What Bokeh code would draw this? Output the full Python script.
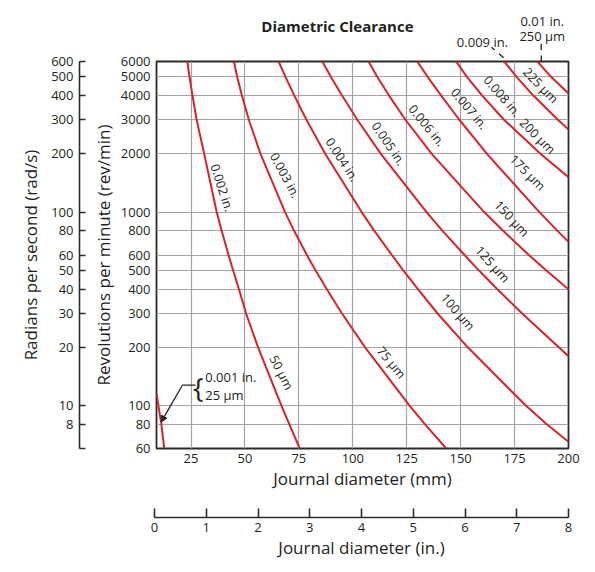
from bokeh.plotting import figure
from bokeh.models import (Range1d, FixedTicker, PrintfTickFormatter, Arrow,
                          NormalHead, ColumnDataSource)
from bokeh.layouts import row, column
from bokeh.embed import file_html
from bokeh.resources import INLINE
from bokeh.core.properties import value

# ---------------- data ----------------
rpm_ticks = [60, 80, 100, 200, 300, 400, 500, 600, 800, 1000, 2000, 3000, 4000, 5000, 6000]
rad_ticks = [6, 8, 10, 20, 30, 40, 50, 60, 80, 100, 200, 300, 400, 500, 600]
mm_ticks = [25, 50, 75, 100, 125, 150, 175, 200]
in_ticks = [0, 1, 2, 3, 4, 5, 6, 7, 8]

# journal diameter (mm) and speed (rev/min) along each diametric-clearance curve
d_001 = [9.0, 11.2, 12.6]
n_001 = [115, 81, 60]
d_002 = [23.3, 24.3, 25.7, 27.6, 31.1, 36.9, 39.2, 42.4, 44.5, 47.2, 50.5, 56.1, 66.9, 70.6, 75.4]
n_002 = [6000, 5000, 4000, 3000, 2000, 1000, 800, 600, 500, 400, 300, 200, 100, 80, 60]
d_003 = [44.9, 46.4, 48.6, 51.8, 57.2, 68.6, 72.8, 78.7, 82.7, 87.9, 94.9, 105.7, 126.3, 133.5, 143.3]
n_003 = [6000, 5000, 4000, 3000, 2000, 1000, 800, 600, 500, 400, 300, 200, 100, 80, 60]
d_004 = [65.6, 68.8, 72.9, 78.5, 87.2, 104.1, 110.0, 118.1, 123.4, 130.2, 139.2, 153.3, 180.2, 189.9, 200.0]
n_004 = [6000, 5000, 4000, 3000, 2000, 1000, 800, 600, 500, 400, 300, 200, 100, 80, 65]
d_005 = [85.9, 89.8, 95.0, 102.1, 113.0, 134.2, 141.6, 151.8, 158.4, 166.9, 178.4, 200.0]
n_005 = [6000, 5000, 4000, 3000, 2000, 1000, 800, 600, 500, 400, 300, 180]
d_006 = [107.3, 111.3, 116.8, 124.4, 136.6, 160.9, 169.7, 181.6, 189.6, 200.0]
n_006 = [6000, 5000, 4000, 3000, 2000, 1000, 800, 600, 500, 399]
d_007 = [129.9, 134.7, 141.0, 149.4, 162.2, 186.5, 194.9, 200.0]
n_007 = [6000, 5000, 4000, 3000, 2000, 1000, 800, 702]
d_008 = [147.9, 152.9, 160.0, 170.1, 187.0, 200.0]
n_008 = [6000, 5000, 4000, 3000, 2000, 1516]
d_009 = [170.2, 175.9, 183.7, 195.1, 200.0]
n_009 = [6000, 5000, 4000, 3000, 2668]
d_010 = [185.6, 191.9, 200.0]
n_010 = [6000, 5000, 4100]

clear_in = ["0.001 in.", "0.002 in.", "0.003 in.", "0.004 in.", "0.005 in.",
            "0.006 in.", "0.007 in.", "0.008 in.", "0.009 in.", "0.01 in."]
clear_um = ["25 μm", "50 μm", "75 μm", "100 μm", "125 μm",
            "150 μm", "175 μm", "200 μm", "225 μm", "250 μm"]

# ---------------- label placement (annotation positions) ----------------
in_lab_text = clear_in[1:8]
in_lab_x = [39.4, 68.6, 95.1, 116.6, 134.3, 154.0, 169.3]
in_lab_y = [1336, 1547, 1867, 2255, 2803, 3419, 3971]
in_lab_ang = [-72, -62, -57, -56, -51, -50, -49]
um_lab_text = clear_um[1:9]
um_lab_x = [66.9, 117.9, 148.7, 164.8, 173.7, 181.0, 185.6, 187.1]
um_lab_y = [148.1, 166.8, 304.5, 536.9, 924.6, 1598, 2468, 4511]
um_lab_ang = [-63, -50, -49, -48, -47, -45, -45, -46]

FONT = "Open Sans"
RED = "#d8232a"
INK = "#231f20"
GRID = "#a3a3a3"
AX = "#2b2b2b"
W = 583


def style_text_axis(ax, label):
    ax.major_label_text_font = FONT
    ax.major_label_text_font_size = "13px"
    ax.major_label_text_color = INK
    ax.axis_label = label
    ax.axis_label_text_font = FONT
    ax.axis_label_text_font_size = "17px"
    ax.axis_label_text_font_style = "normal"
    ax.axis_label_text_color = INK
    ax.minor_tick_line_color = None


# ---------------- strip above the chart: title and top callouts ----------------
x_mm = Range1d(9, 200)
pt = figure(width=W, height=50, x_range=x_mm, y_range=Range1d(50, 0), title=None,
            output_backend="svg", toolbar_location=None,
            min_border_left=154, min_border_right=W - 568, min_border_top=0, min_border_bottom=0,
            x_axis_location=None, y_axis_location=None, outline_line_color=None,
            background_fill_color="white", border_fill_color="white")
pt.grid.visible = False
pt.text(x=[93.4], y=[25], text=["Diametric Clearance"], text_font=value(FONT),
        text_font_size="15px", text_font_style="bold", text_color=INK,
        text_align="center", text_baseline="middle")
pt.text(x=[160.3, 187.9, 187.9], y=[41, 20.8, 35.8], text=[clear_in[8], clear_in[9], clear_um[9]],
        text_font=value(FONT), text_font_size="13px", text_color=INK,
        text_align="center", text_baseline="middle")
pt.segment(x0=[164.5, 187.4], y0=[46.7, 43.3], x1=[166.1, 187.4], y1=[50, 50],
           line_color=INK, line_width=1.3)

# ---------------- main chart ----------------
p = figure(width=W - 88, height=450, x_range=x_mm, y_range=Range1d(60, 6000), title=None,
           y_axis_type="log", output_backend="svg", toolbar_location=None,
           min_border_left=66, min_border_right=W - 568, min_border_top=11, min_border_bottom=52,
           background_fill_color="white", border_fill_color="white")
p.outline_line_color = AX
p.outline_line_width = 1.8

p.xaxis.ticker = FixedTicker(ticks=mm_ticks)
p.yaxis.ticker = FixedTicker(ticks=rpm_ticks, minor_ticks=[])
p.yaxis.formatter = PrintfTickFormatter(format="%d")
for ax in (p.xaxis[0], p.yaxis[0]):
    ax.axis_line_color = None
    ax.major_tick_line_color = None
    ax.major_tick_out = 0
    ax.major_tick_in = 0
style_text_axis(p.xaxis[0], "Journal diameter (mm)")
style_text_axis(p.yaxis[0], "Revolutions per minute (rev/min)")
p.xaxis.major_label_standoff = 5
p.xaxis.axis_label_standoff = 1
p.yaxis.major_label_standoff = 6
p.yaxis.axis_label_standoff = 3

p.grid.grid_line_color = GRID
p.grid.grid_line_width = 1.2
p.xgrid.ticker = FixedTicker(ticks=mm_ticks[:-1])
p.ygrid.ticker = FixedTicker(ticks=rpm_ticks)

curves = [(d_001, n_001), (d_002, n_002), (d_003, n_003), (d_004, n_004), (d_005, n_005),
          (d_006, n_006), (d_007, n_007), (d_008, n_008), (d_009, n_009), (d_010, n_010)]
for d, n in curves:
    p.line(d, n, line_color=RED, line_width=2, line_join="round")

lab_src = ColumnDataSource(dict(x=in_lab_x + um_lab_x, y=in_lab_y + um_lab_y,
                                t=in_lab_text + um_lab_text, a=in_lab_ang + um_lab_ang))
p.text(x="x", y="y", text="t", angle="a", angle_units="deg", source=lab_src,
       text_font=value(FONT), text_font_size="12.5px", text_color=INK,
       text_align="center", text_baseline="middle")

# 0.001 in. / 25 um callout
p.text(x=[31.6, 31.6], y=[140.5, 114.0], text=[clear_in[0], clear_um[0]],
       text_font=value(FONT), text_font_size="13px", text_color=INK,
       text_align="left", text_baseline="middle")
p.text(x=[28.4], y=[124.8], text=["{"], text_font=value(FONT), text_font_size="28px",
       text_color=INK, text_align="center", text_baseline="middle")
p.segment(x0=[27.1], y0=[127.4], x1=[21.0], y1=[127.4], line_color=INK, line_width=1.3)
p.add_layout(Arrow(end=NormalHead(size=6, fill_color=INK, line_color=INK),
                   x_start=21.0, y_start=127.4, x_end=11.2, y_end=82.3,
                   line_color=INK, line_width=1.3))

# lower parts of the 0.009 in. and 0.01 in. arrows (above the frame)
p.add_layout(Arrow(end=NormalHead(size=6, fill_color=INK, line_color=INK),
                   x_start=166.1, y_start=6839, x_end=169.9, y_end=6270,
                   line_color=INK, line_width=1.3))
p.add_layout(Arrow(end=NormalHead(size=6, fill_color=INK, line_color=INK),
                   x_start=187.4, y_start=6839, x_end=187.4, y_end=6000,
                   line_color=INK, line_width=1.3))

# ---------------- rad/s axis ----------------
pr = figure(width=88, height=450, x_range=Range1d(0, 1), y_range=Range1d(6, 600), title=None,
            y_axis_type="log", output_backend="svg", toolbar_location=None,
            min_border_left=79, min_border_right=0, min_border_top=11, min_border_bottom=52,
            x_axis_location=None, outline_line_color=None,
            background_fill_color="white", border_fill_color="white")
pr.grid.visible = False
ra = pr.yaxis[0]
ra.ticker = FixedTicker(ticks=rad_ticks, minor_ticks=[])
ra.formatter = PrintfTickFormatter(format="%d")
ra.major_label_overrides = {6: ""}
ra.axis_line_color = AX
ra.axis_line_width = 1.6
ra.major_tick_line_color = AX
ra.major_tick_line_width = 1.6
ra.major_tick_in = 6
ra.major_tick_out = 0
ra.major_label_standoff = 6
style_text_axis(ra, "Radians per second (rad/s)")
ra.axis_label_standoff = 6

# ---------------- inch axis ----------------
pi = figure(width=W, height=62, x_range=Range1d(0, 8), y_range=Range1d(0, 1), title=None,
            output_backend="svg", toolbar_location=None,
            min_border_left=133, min_border_right=W - 568, min_border_top=7, min_border_bottom=45,
            y_axis_location=None, outline_line_color=None,
            background_fill_color="white", border_fill_color="white")
pi.grid.visible = False
ia = pi.xaxis[0]
ia.ticker = FixedTicker(ticks=in_ticks, minor_ticks=[])
ia.axis_line_color = AX
ia.axis_line_width = 1.6
ia.major_tick_line_color = AX
ia.major_tick_line_width = 1.6
ia.major_tick_in = 9
ia.major_tick_out = 0
ia.major_label_standoff = 5
style_text_axis(ia, "Journal diameter (in.)")
ia.axis_label_standoff = 1

layout = column(pt, row(pr, p), pi)
open("out.html", "w").write(file_html(layout, INLINE))
